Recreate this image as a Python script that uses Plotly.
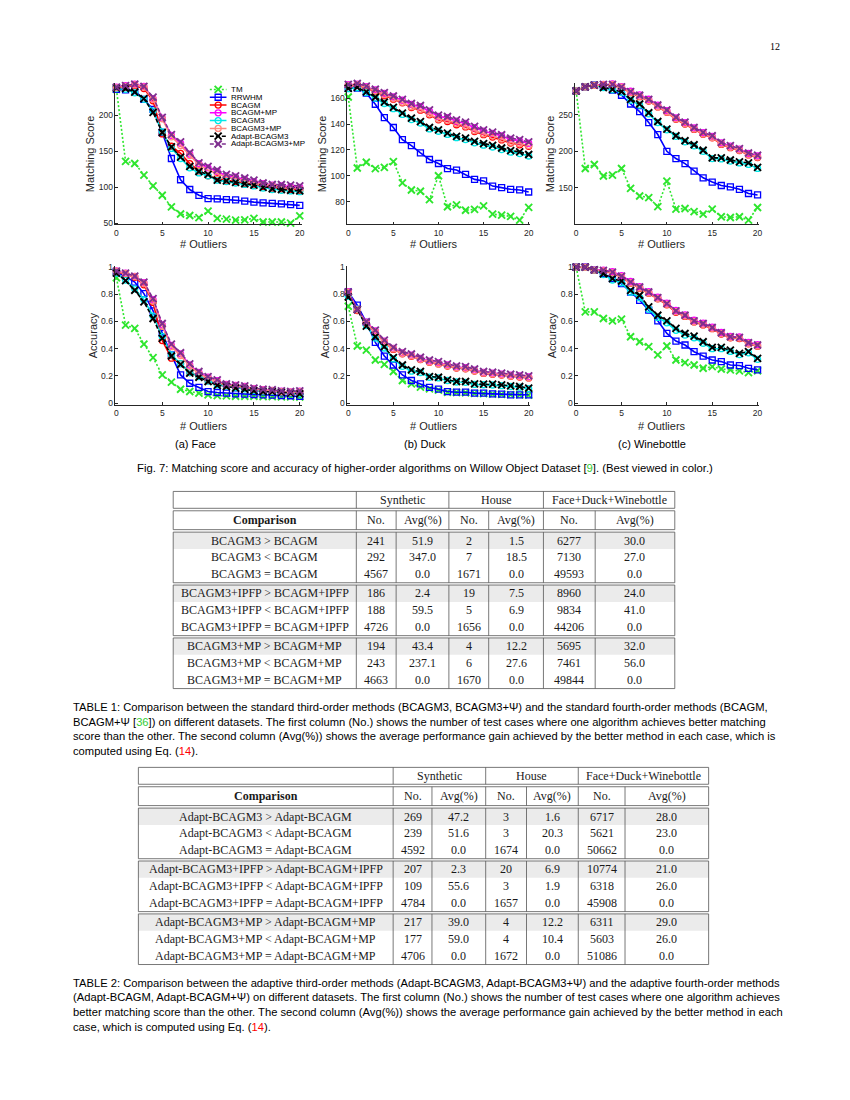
import plotly.graph_objects as go

# page is 850x1100; the html body adds an 8px margin, so the figure is 834x1084
PAGE_W, PAGE_H = 850, 1100
BODY_MARGIN = 8
W, H = PAGE_W - 2 * BODY_MARGIN, PAGE_H - 2 * BODY_MARGIN
OUTLIERS = list(range(21))
SERIES = ["TM", "RRWHM", "BCAGM", "BCAGM+MP", "BCAGM3", "BCAGM3+MP", "Adapt-BCAGM3", "Adapt-BCAGM3+MP"]

# ---------------- Face: matching score ----------------
FACE_MS_TM = [236, 136, 133, 117, 102, 89, 73, 63, 61, 58, 67, 57, 56, 54.5, 55, 57, 52, 52, 52, 50.5, 60.5]
FACE_MS_RRWHM = [236, 235, 234, 222, 208, 176, 140, 110.5, 97, 89, 84.5, 84, 83, 82.7, 81, 79.5, 78.6, 77.7, 77, 76, 75]
FACE_MS_BCAGM = [238, 239, 241, 237, 220, 174, 157, 147, 133, 123, 116, 112, 110, 108, 105, 103, 101, 99, 98, 97, 96]
FACE_MS_BCAGM_MP = [239, 241, 243, 240, 223, 196, 172, 161, 146, 133, 127, 122, 116, 114, 111, 108, 105, 103, 102, 101, 100]
FACE_MS_BCAGM3 = [237, 236, 231, 222, 206, 177, 154, 140, 127, 120, 116, 110, 108, 106, 104, 102, 99, 97, 96, 95, 94]
FACE_MS_BCAGM3_MP = [238, 240, 242, 239, 222, 195, 170, 158, 144, 131, 124, 119, 114, 112, 109, 106, 104, 102, 100, 99, 98]
FACE_MS_ADAPT3 = [238, 237, 232, 223, 204, 176, 156, 142, 129, 122, 118, 110, 109, 107, 105, 103, 100, 98, 97, 96, 95]
FACE_MS_ADAPT3_MP = [239, 241, 243, 240, 225, 197, 173, 163, 148, 134, 129, 124, 118, 116, 113, 110, 106, 104, 104, 103, 102]

# ---------------- Duck: matching score ----------------
DUCK_MS_TM = [161, 106, 110.5, 105.5, 106.5, 111, 94.5, 89, 88, 81.5, 100, 76, 77.5, 73.3, 74, 76.7, 70.3, 69.5, 68.5, 65.6, 75.5]
DUCK_MS_RRWHM = [167.7, 168, 164, 155.4, 145, 137.4, 128, 123.3, 117.7, 112.6, 109.5, 105.6, 104.4, 101, 97.2, 96, 92, 90.8, 89.5, 89, 87.4]
DUCK_MS_BCAGM = [169.5, 170, 168, 165, 162, 159.3, 156.5, 152.8, 150.8, 147.2, 143.3, 142, 139.5, 137.8, 134.2, 131.8, 130, 127.8, 125.3, 124, 122.8]
DUCK_MS_BCAGM_MP = [170.5, 171, 169, 166.5, 163.8, 161, 158.5, 155.3, 153.5, 150, 146, 145, 142.3, 140.5, 137.2, 134.6, 132.8, 130.8, 128.2, 127, 125.2]
DUCK_MS_BCAGM3 = [167.5, 168.2, 164.5, 160, 156, 152, 147.5, 143.5, 140.8, 136.3, 134.5, 132, 129.5, 128, 125.5, 123.7, 122.3, 120.3, 118.3, 117.2, 115.3]
DUCK_MS_BCAGM3_MP = [170, 170.5, 168.5, 165.8, 162.8, 160, 157, 153.5, 151.5, 148, 144, 143, 140.5, 138.5, 135, 132.5, 131, 128.5, 126, 125, 123.5]
DUCK_MS_ADAPT3 = [167.7, 168.5, 165, 160.8, 157, 153, 148.5, 144.6, 142, 137.4, 135.6, 133, 130.5, 129.2, 126.7, 124.9, 123.6, 121.5, 119.5, 118.5, 116.5]
DUCK_MS_ADAPT3_MP = [170.8, 171.5, 169.5, 167, 164.4, 161.8, 159.2, 156, 154.4, 151, 147, 145.9, 143.3, 141.5, 138.2, 135.6, 133.8, 131.8, 129.2, 128, 126.2]

# ---------------- Winebottle: matching score ----------------
WINE_MS_TM = [283, 176.4, 181.8, 166, 167.3, 176.4, 149, 138.6, 136.4, 124, 159, 120.5, 121.4, 117, 113.6, 120.5, 110, 109, 110, 105.5, 122.7]
WINE_MS_RRWHM = [283, 288.6, 291, 288.6, 284, 277, 265, 254.5, 239.5, 223, 200, 190, 183, 172.7, 163.6, 157.7, 153, 151, 147.7, 142, 140]
WINE_MS_BCAGM = [283, 288.5, 290.5, 291, 291, 287.5, 280.5, 275, 269, 261, 253.5, 244, 237.5, 230, 223.5, 218.5, 209.5, 205, 201, 195, 191.5]
WINE_MS_BCAGM_MP = [283, 288.6, 291, 292, 292.5, 289, 282.5, 277.5, 271.5, 263.5, 256, 246, 239.5, 232, 225.5, 220.5, 211.5, 207, 203, 197, 193.5]
WINE_MS_BCAGM3 = [283, 288.5, 290.8, 287.5, 284.5, 281, 270, 263.5, 251.5, 239.5, 229.5, 220.5, 213, 207.5, 200, 190, 189.5, 186.5, 184, 182, 176.5]
WINE_MS_BCAGM3_MP = [283, 288.5, 290.5, 291.5, 291.5, 288, 281, 275.5, 269.5, 261.5, 254, 244.5, 238, 230.5, 224, 219, 210, 205.5, 201.5, 195.5, 192]
WINE_MS_ADAPT3 = [283, 288.6, 291, 287.7, 285, 282, 271.4, 265, 253, 240.9, 230.5, 221.4, 214.5, 209, 201.4, 191, 191, 188, 185.5, 184, 178]
WINE_MS_ADAPT3_MP = [283, 288.6, 291, 292, 292, 288.6, 282, 277, 271.4, 263.6, 256.8, 246.8, 240, 232.7, 226, 221.4, 212.3, 207.7, 203.6, 197.7, 194.5]

# ---------------- Face: accuracy ----------------
FACE_AC_TM = [0.922, 0.573, 0.549, 0.434, 0.334, 0.207, 0.154, 0.102, 0.085, 0.073, 0.061, 0.055, 0.053, 0.05, 0.05, 0.05, 0.048, 0.047, 0.046, 0.046, 0.045]
FACE_AC_RRWHM = [0.963, 0.93, 0.89, 0.805, 0.678, 0.512, 0.354, 0.207, 0.146, 0.115, 0.085, 0.078, 0.073, 0.068, 0.066, 0.063, 0.061, 0.059, 0.056, 0.054, 0.049]
FACE_AC_BCAGM = [0.965, 0.95, 0.925, 0.87, 0.74, 0.46, 0.33, 0.29, 0.225, 0.2, 0.165, 0.14, 0.13, 0.115, 0.108, 0.095, 0.09, 0.088, 0.083, 0.077, 0.072]
FACE_AC_BCAGM_MP = [0.972, 0.955, 0.932, 0.885, 0.76, 0.575, 0.425, 0.362, 0.28, 0.225, 0.19, 0.165, 0.137, 0.13, 0.122, 0.106, 0.098, 0.094, 0.087, 0.082, 0.087]
FACE_AC_BCAGM3 = [0.955, 0.905, 0.84, 0.76, 0.64, 0.49, 0.355, 0.29, 0.225, 0.195, 0.162, 0.135, 0.125, 0.113, 0.105, 0.093, 0.088, 0.087, 0.082, 0.075, 0.07]
FACE_AC_BCAGM3_MP = [0.97, 0.953, 0.93, 0.88, 0.75, 0.565, 0.415, 0.35, 0.27, 0.218, 0.183, 0.158, 0.132, 0.125, 0.118, 0.102, 0.095, 0.091, 0.084, 0.08, 0.084]
FACE_AC_ADAPT3 = [0.956, 0.9, 0.83, 0.744, 0.622, 0.476, 0.346, 0.285, 0.22, 0.19, 0.159, 0.13, 0.122, 0.11, 0.102, 0.09, 0.085, 0.085, 0.08, 0.073, 0.068]
FACE_AC_ADAPT3_MP = [0.97, 0.956, 0.934, 0.89, 0.768, 0.585, 0.434, 0.37, 0.288, 0.232, 0.195, 0.171, 0.141, 0.134, 0.127, 0.11, 0.102, 0.098, 0.09, 0.085, 0.09]

# ---------------- Duck: accuracy ----------------
DUCK_AC_TM = [0.712, 0.42, 0.39, 0.317, 0.285, 0.232, 0.166, 0.141, 0.117, 0.105, 0.095, 0.08, 0.078, 0.076, 0.072, 0.07, 0.066, 0.064, 0.062, 0.06, 0.058]
DUCK_AC_RRWHM = [0.817, 0.72, 0.593, 0.446, 0.346, 0.28, 0.207, 0.166, 0.141, 0.115, 0.102, 0.085, 0.08, 0.08, 0.073, 0.073, 0.068, 0.066, 0.061, 0.061, 0.061]
DUCK_AC_BCAGM = [0.81, 0.68, 0.588, 0.522, 0.447, 0.395, 0.362, 0.344, 0.32, 0.3, 0.288, 0.272, 0.258, 0.252, 0.236, 0.218, 0.213, 0.206, 0.198, 0.192, 0.185]
DUCK_AC_BCAGM_MP = [0.82, 0.69, 0.595, 0.53, 0.455, 0.403, 0.37, 0.352, 0.328, 0.308, 0.296, 0.28, 0.265, 0.26, 0.243, 0.225, 0.22, 0.213, 0.205, 0.2, 0.193]
DUCK_AC_BCAGM3 = [0.785, 0.69, 0.57, 0.478, 0.405, 0.325, 0.27, 0.235, 0.225, 0.19, 0.185, 0.166, 0.155, 0.153, 0.137, 0.135, 0.133, 0.128, 0.122, 0.117, 0.106]
DUCK_AC_BCAGM3_MP = [0.815, 0.685, 0.59, 0.525, 0.45, 0.398, 0.365, 0.347, 0.322, 0.302, 0.29, 0.275, 0.26, 0.255, 0.238, 0.22, 0.215, 0.208, 0.2, 0.195, 0.188]
DUCK_AC_ADAPT3 = [0.78, 0.688, 0.566, 0.488, 0.415, 0.334, 0.28, 0.244, 0.232, 0.195, 0.19, 0.171, 0.159, 0.159, 0.141, 0.139, 0.139, 0.134, 0.127, 0.122, 0.11]
DUCK_AC_ADAPT3_MP = [0.817, 0.688, 0.598, 0.537, 0.463, 0.41, 0.378, 0.361, 0.337, 0.317, 0.305, 0.288, 0.273, 0.268, 0.251, 0.232, 0.227, 0.22, 0.212, 0.207, 0.2]

# ---------------- Winebottle: accuracy ----------------
WINE_AC_TM = [1.0, 0.671, 0.671, 0.622, 0.605, 0.617, 0.488, 0.451, 0.415, 0.354, 0.42, 0.317, 0.298, 0.28, 0.256, 0.268, 0.251, 0.244, 0.237, 0.224, 0.238]
WINE_AC_RRWHM = [1.0, 1.0, 0.98, 0.951, 0.915, 0.878, 0.817, 0.756, 0.683, 0.605, 0.512, 0.456, 0.427, 0.378, 0.346, 0.317, 0.305, 0.28, 0.276, 0.256, 0.244]
WINE_AC_BCAGM = [1.0, 0.998, 0.977, 0.97, 0.956, 0.925, 0.882, 0.845, 0.808, 0.767, 0.723, 0.668, 0.637, 0.597, 0.575, 0.547, 0.508, 0.48, 0.475, 0.436, 0.418]
WINE_AC_BCAGM_MP = [1.0, 1.0, 0.982, 0.978, 0.966, 0.938, 0.894, 0.857, 0.82, 0.779, 0.735, 0.682, 0.649, 0.609, 0.588, 0.558, 0.52, 0.49, 0.486, 0.447, 0.43]
WINE_AC_BCAGM3 = [1.0, 0.998, 0.978, 0.945, 0.905, 0.885, 0.815, 0.775, 0.69, 0.63, 0.59, 0.535, 0.5, 0.48, 0.44, 0.4, 0.4, 0.38, 0.357, 0.37, 0.322]
WINE_AC_BCAGM3_MP = [1.0, 0.998, 0.978, 0.972, 0.958, 0.928, 0.884, 0.848, 0.81, 0.77, 0.726, 0.672, 0.64, 0.6, 0.579, 0.55, 0.511, 0.483, 0.478, 0.439, 0.42]
WINE_AC_ADAPT3 = [1.0, 1.0, 0.98, 0.951, 0.915, 0.898, 0.829, 0.793, 0.707, 0.646, 0.605, 0.549, 0.512, 0.493, 0.451, 0.41, 0.41, 0.39, 0.366, 0.378, 0.329]
WINE_AC_ADAPT3_MP = [1.0, 1.0, 0.98, 0.976, 0.963, 0.934, 0.89, 0.854, 0.817, 0.776, 0.732, 0.678, 0.646, 0.605, 0.585, 0.556, 0.517, 0.488, 0.483, 0.444, 0.427]

# ---------------- Tables ----------------
T1_ROWS = ["BCAGM3 > BCAGM", "BCAGM3 < BCAGM", "BCAGM3 = BCAGM",
           "BCAGM3+IPFP > BCAGM+IPFP", "BCAGM3+IPFP < BCAGM+IPFP", "BCAGM3+IPFP = BCAGM+IPFP",
           "BCAGM3+MP > BCAGM+MP", "BCAGM3+MP < BCAGM+MP", "BCAGM3+MP = BCAGM+MP"]
T1_SYN_NO = ["241", "292", "4567", "186", "188", "4726", "194", "243", "4663"]
T1_SYN_AVG = ["51.9", "347.0", "0.0", "2.4", "59.5", "0.0", "43.4", "237.1", "0.0"]
T1_HOUSE_NO = ["2", "7", "1671", "19", "5", "1656", "4", "6", "1670"]
T1_HOUSE_AVG = ["1.5", "18.5", "0.0", "7.5", "6.9", "0.0", "12.2", "27.6", "0.0"]
T1_FDW_NO = ["6277", "7130", "49593", "8960", "9834", "44206", "5695", "7461", "49844"]
T1_FDW_AVG = ["30.0", "27.0", "0.0", "24.0", "41.0", "0.0", "32.0", "56.0", "0.0"]

T2_ROWS = ["Adapt-BCAGM3 > Adapt-BCAGM", "Adapt-BCAGM3 < Adapt-BCAGM", "Adapt-BCAGM3 = Adapt-BCAGM",
           "Adapt-BCAGM3+IPFP > Adapt-BCAGM+IPFP", "Adapt-BCAGM3+IPFP < Adapt-BCAGM+IPFP", "Adapt-BCAGM3+IPFP = Adapt-BCAGM+IPFP",
           "Adapt-BCAGM3+MP > Adapt-BCAGM+MP", "Adapt-BCAGM3+MP < Adapt-BCAGM+MP", "Adapt-BCAGM3+MP = Adapt-BCAGM+MP"]
T2_SYN_NO = ["269", "239", "4592", "207", "109", "4784", "217", "177", "4706"]
T2_SYN_AVG = ["47.2", "51.6", "0.0", "2.3", "55.6", "0.0", "39.0", "59.0", "0.0"]
T2_HOUSE_NO = ["3", "3", "1674", "20", "3", "1657", "4", "4", "1672"]
T2_HOUSE_AVG = ["1.6", "20.3", "0.0", "6.9", "1.9", "0.0", "12.2", "10.4", "0.0"]
T2_FDW_NO = ["6717", "5621", "50662", "10774", "6318", "45908", "6311", "5603", "51086"]
T2_FDW_AVG = ["28.0", "23.0", "0.0", "21.0", "26.0", "0.0", "29.0", "26.0", "0.0"]

GROUP_HEADERS = ["Synthetic", "House", "Face+Duck+Winebottle"]
SUB_HEADERS = ["Comparison", "No.", "Avg(%)", "No.", "Avg(%)", "No.", "Avg(%)"]

# ---------------- styles ----------------
COLORS = {"TM": "#2ee62e", "RRWHM": "#0000ff", "BCAGM": "#ff0000", "BCAGM+MP": "#ff00ff",
          "BCAGM3": "#00e8e8", "BCAGM3+MP": "#ff8a80", "Adapt-BCAGM3": "#000000",
          "Adapt-BCAGM3+MP": "#7e2f8e"}
SYMBOLS = {"TM": "x-thin", "RRWHM": "square-open", "BCAGM": "circle-open", "BCAGM+MP": "circle-open",
           "BCAGM3": "circle-open", "BCAGM3+MP": "circle-open", "Adapt-BCAGM3": "x-thin",
           "Adapt-BCAGM3+MP": "x-thin"}
DASHES = {"TM": "2px,2px", "Adapt-BCAGM3": "4px,2px", "Adapt-BCAGM3+MP": "4px,2px"}

AXC = "#262626"
SANS = "Liberation Sans"
SERIF = "Liberation Serif"


def px_x(p):
    return (p - BODY_MARGIN) / W


def px_y(p):
    return 1 - (p - BODY_MARGIN) / H


PANELS = [
    dict(data=[FACE_MS_TM, FACE_MS_RRWHM, FACE_MS_BCAGM, FACE_MS_BCAGM_MP, FACE_MS_BCAGM3, FACE_MS_BCAGM3_MP, FACE_MS_ADAPT3, FACE_MS_ADAPT3_MP],
         col=0, row=0, yrange=[48.6, 244.0], ytick=[50, 100, 150, 200], ytitle="Matching Score"),
    dict(data=[DUCK_MS_TM, DUCK_MS_RRWHM, DUCK_MS_BCAGM, DUCK_MS_BCAGM_MP, DUCK_MS_BCAGM3, DUCK_MS_BCAGM3_MP, DUCK_MS_ADAPT3, DUCK_MS_ADAPT3_MP],
         col=1, row=0, yrange=[62.3, 171.5], ytick=[80, 100, 120, 140, 160], ytitle="Matching Score"),
    dict(data=[WINE_MS_TM, WINE_MS_RRWHM, WINE_MS_BCAGM, WINE_MS_BCAGM_MP, WINE_MS_BCAGM3, WINE_MS_BCAGM3_MP, WINE_MS_ADAPT3, WINE_MS_ADAPT3_MP],
         col=2, row=0, yrange=[99.5, 293.2], ytick=[150, 200, 250], ytitle="Matching Score"),
    dict(data=[FACE_AC_TM, FACE_AC_RRWHM, FACE_AC_BCAGM, FACE_AC_BCAGM_MP, FACE_AC_BCAGM3, FACE_AC_BCAGM3_MP, FACE_AC_ADAPT3, FACE_AC_ADAPT3_MP],
         col=0, row=1, yrange=[-0.0146, 1.0073], ytick=[0, 0.2, 0.4, 0.6, 0.8, 1], ytitle="Accuracy"),
    dict(data=[DUCK_AC_TM, DUCK_AC_RRWHM, DUCK_AC_BCAGM, DUCK_AC_BCAGM_MP, DUCK_AC_BCAGM3, DUCK_AC_BCAGM3_MP, DUCK_AC_ADAPT3, DUCK_AC_ADAPT3_MP],
         col=1, row=1, yrange=[-0.0146, 1.0073], ytick=[0, 0.2, 0.4, 0.6, 0.8, 1], ytitle="Accuracy"),
    dict(data=[WINE_AC_TM, WINE_AC_RRWHM, WINE_AC_BCAGM, WINE_AC_BCAGM_MP, WINE_AC_BCAGM3, WINE_AC_BCAGM3_MP, WINE_AC_ADAPT3, WINE_AC_ADAPT3_MP],
         col=2, row=1, yrange=[-0.0146, 1.0073], ytick=[0, 0.2, 0.4, 0.6, 0.8, 1], ytitle="Accuracy"),
]
COL_PX = [(115, 302), (348, 532), (577, 762)]
ROW_PX = [(80, 222), (264, 404)]
XTITLE_Y = [241.5, 425]
SUBCAPTIONS = ["(a) Face", "(b) Duck", "(c) Winebottle"]
SUBCAPTION_X = [195, 426, 654]


def style_marker(name):
    c = COLORS[name]
    sym = SYMBOLS[name]
    if sym == "x-thin":
        return dict(symbol=sym, size=7, color=c, line=dict(color=c, width=1.9))
    return dict(symbol=sym, size=6, color=c, line=dict(color=c, width=1.3))


fig = go.Figure()
annotations = []
shapes = []

for k, p in enumerate(PANELS, start=1):
    xa, ya = f"x{k}", f"y{k}"
    for name, ys in zip(SERIES, p["data"]):
        fig.add_trace(go.Scatter(
            x=OUTLIERS, y=ys, mode="lines+markers", name=name, showlegend=False,
            line=dict(color=COLORS[name], width=1.6, dash=DASHES.get(name, "solid")),
            marker=style_marker(name), xaxis=xa, yaxis=ya, cliponaxis=False))
    c0, c1 = COL_PX[p["col"]]
    r0, r1 = ROW_PX[p["row"]]
    common = dict(showline=True, linecolor=AXC, linewidth=0.8, ticks="inside", ticklen=3,
                  tickcolor=AXC, tickwidth=0.7, showgrid=False, zeroline=False, mirror=False,
                  tickfont=dict(family=SANS, size=8.5, color=AXC))
    fig.layout[f"xaxis{k}"] = dict(domain=[px_x(c0), px_x(c1)], anchor=ya, range=[-0.1, 20.2],
                                   tickvals=[0, 5, 10, 15, 20], **common)
    fig.layout[f"yaxis{k}"] = dict(domain=[px_y(r1), px_y(r0)], anchor=xa, range=p["yrange"],
                                   tickvals=p["ytick"], ticktext=[f"{v:g}" for v in p["ytick"]],
                                   title=dict(text=p["ytitle"], standoff=1,
                                              font=dict(family=SANS, size=11, color=AXC)),
                                   **common)
    # x-axis label (MATLAB places it a little left of the axis centre)
    annotations.append(dict(x=px_x((c0 + c1) / 2 - 5), y=px_y(XTITLE_Y[p["row"]]),
                            xref="paper", yref="paper", text="# Outliers", showarrow=False,
                            xanchor="center", yanchor="middle",
                            font=dict(family=SANS, size=11, color=AXC)))

# ---------------- legend inside face matching-score panel ----------------
for i, name in enumerate(SERIES):
    fig.add_trace(go.Scatter(x=[0.3, 2.1], y=[i, i], mode="lines", showlegend=False,
                             line=dict(color=COLORS[name], width=1.5, dash=DASHES.get(name, "solid")),
                             xaxis="x7", yaxis="y7", hoverinfo="skip"))
    fig.add_trace(go.Scatter(x=[1.2], y=[i], mode="markers", showlegend=False,
                             marker=style_marker(name), xaxis="x7", yaxis="y7", hoverinfo="skip",
                             cliponaxis=False))
    annotations.append(dict(x=2.35, y=i, xref="x7", yref="y7", text=name, showarrow=False,
                            xanchor="left", yanchor="middle",
                            font=dict(family=SANS, size=8, color="#000000")))
fig.layout["xaxis7"] = dict(domain=[px_x(207), px_x(300)], range=[0, 10], visible=False, anchor="y7")
fig.layout["yaxis7"] = dict(domain=[px_y(144.9), px_y(82.1)], range=[7.5, -0.5], visible=False, anchor="x7")

# ---------------- sub-captions ----------------
for cx, txt in zip(SUBCAPTION_X, SUBCAPTIONS):
    annotations.append(dict(x=px_x(cx), y=px_y(443), xref="paper", yref="paper",
                            text=txt, showarrow=False, xanchor="center", yanchor="middle",
                            font=dict(family=SANS, size=11, color="#000000")))

GREEN = "#33cc33"
REDREF = "#ff0000"
annotations.append(dict(x=px_x(426), y=px_y(467), xref="paper", yref="paper", showarrow=False,
                        xanchor="center", yanchor="middle",
                        font=dict(family=SANS, size=11.3, color="#000000"),
                        text=f"Fig. 7: Matching score and accuracy of higher-order algorithms on Willow Object Dataset [<span style='color:{GREEN}'>9</span>]. (Best viewed in color.)"))

CAP1 = [
    "TABLE 1: Comparison between the standard third-order methods (BCAGM3, BCAGM3+Ψ) and the standard fourth-order methods (BCAGM,",
    f"BCAGM+Ψ [<span style='color:{GREEN}'>36</span>]) on different datasets. The first column (No.) shows the number of test cases where one algorithm achieves better matching",
    "score than the other. The second column (Avg(%)) shows the average performance gain achieved by the better method in each case, which is",
    f"computed using Eq. (<span style='color:{REDREF}'>14</span>).",
]
CAP2 = [
    "TABLE 2: Comparison between the adaptive third-order methods (Adapt-BCAGM3, Adapt-BCAGM3+Ψ) and the adaptive fourth-order methods",
    "(Adapt-BCAGM, Adapt-BCAGM+Ψ) on different datasets. The first column (No.) shows the number of test cases where one algorithm achieves",
    "better matching score than the other. The second column (Avg(%)) shows the average performance gain achieved by the better method in each",
    f"case, which is computed using Eq. (<span style='color:{REDREF}'>14</span>).",
]
for top, lines in ((708, CAP1), (986, CAP2)):
    for j, line in enumerate(lines):
        annotations.append(dict(x=px_x(70), y=px_y(top + 14.8 * j), xref="paper", yref="paper",
                                showarrow=False, xanchor="left", yanchor="middle", text=line,
                                font=dict(family=SANS, size=11.2, color="#000000")))

annotations.append(dict(x=px_x(778), y=px_y(43), xref="paper", yref="paper", showarrow=False,
                        xanchor="center", yanchor="middle", text="12",
                        font=dict(family=SERIF, size=10, color="#000000")))


# ---------------- tables (drawn from the lists above) ----------------
def draw_table(cols, top, rows, cells):
    line = dict(color="#555555", width=0.8)
    left, right = cols[0], cols[-1]
    h1 = (top, top + 17)
    h2 = (h1[1] + 2.5, h1[1] + 2.5 + 19)
    groups = []
    g = h2[1] + 2.5
    for _ in range(3):
        groups.append((g, g + 51))
        g += 51 + 2.3

    def rect(x0, y0, x1, y1, fill=None, lw=True):
        shapes.append(dict(type="rect", xref="paper", yref="paper",
                           x0=px_x(x0), x1=px_x(x1), y0=px_y(y1), y1=px_y(y0),
                           line=line if lw else dict(width=0),
                           fillcolor=fill if fill else "rgba(0,0,0,0)", layer="below"))

    def vline(x, y0, y1):
        shapes.append(dict(type="line", xref="paper", yref="paper",
                           x0=px_x(x), x1=px_x(x), y0=px_y(y0), y1=px_y(y1), line=line))

    def text(x, y, s, bold=False):
        annotations.append(dict(x=px_x(x), y=px_y(y), xref="paper", yref="paper", showarrow=False,
                                xanchor="center", yanchor="middle",
                                text=f"<b>{s}</b>" if bold else s,
                                font=dict(family=SERIF, size=12, color="#1a1a1a")))

    rect(left, h1[0], right, h1[1])
    for ci in (1, 3, 5):
        vline(cols[ci], h1[0], h1[1])
    for gi, name in enumerate(GROUP_HEADERS):
        text((cols[1 + 2 * gi] + cols[3 + 2 * gi]) / 2, (h1[0] + h1[1]) / 2, name)
    rect(left, h2[0], right, h2[1])
    for ci in range(1, 7):
        vline(cols[ci], h2[0], h2[1])
    for ci, name in enumerate(SUB_HEADERS):
        text((cols[ci] + cols[ci + 1]) / 2, (h2[0] + h2[1]) / 2, name, bold=(ci == 0))
    for gi, (g0, g1) in enumerate(groups):
        rect(left, g0, right, g0 + 17, fill="#ebebeb", lw=False)
        rect(left, g0, right, g1)
        for ci in range(1, 7):
            vline(cols[ci], g0, g1)
        for r in range(3):
            idx = gi * 3 + r
            yc = g0 + 8.5 + 17 * r
            text((cols[0] + cols[1]) / 2, yc, rows[idx])
            for ci, col in enumerate(cells):
                text((cols[ci + 1] + cols[ci + 2]) / 2, yc, col[idx])


draw_table([173, 357, 397, 450, 490, 545, 597, 677], 491, T1_ROWS,
           [T1_SYN_NO, T1_SYN_AVG, T1_HOUSE_NO, T1_HOUSE_AVG, T1_FDW_NO, T1_FDW_AVG])
draw_table([138, 394, 433, 487, 528, 580, 627, 711], 769, T2_ROWS,
           [T2_SYN_NO, T2_SYN_AVG, T2_HOUSE_NO, T2_HOUSE_AVG, T2_FDW_NO, T2_FDW_AVG])

fig.update_layout(width=W, height=H, margin=dict(l=0, r=0, t=0, b=0),
                  paper_bgcolor="white", plot_bgcolor="white", showlegend=False,
                  annotations=annotations, shapes=shapes,
                  font=dict(family=SANS, color="#000000"))

fig.write_html("out.html")
